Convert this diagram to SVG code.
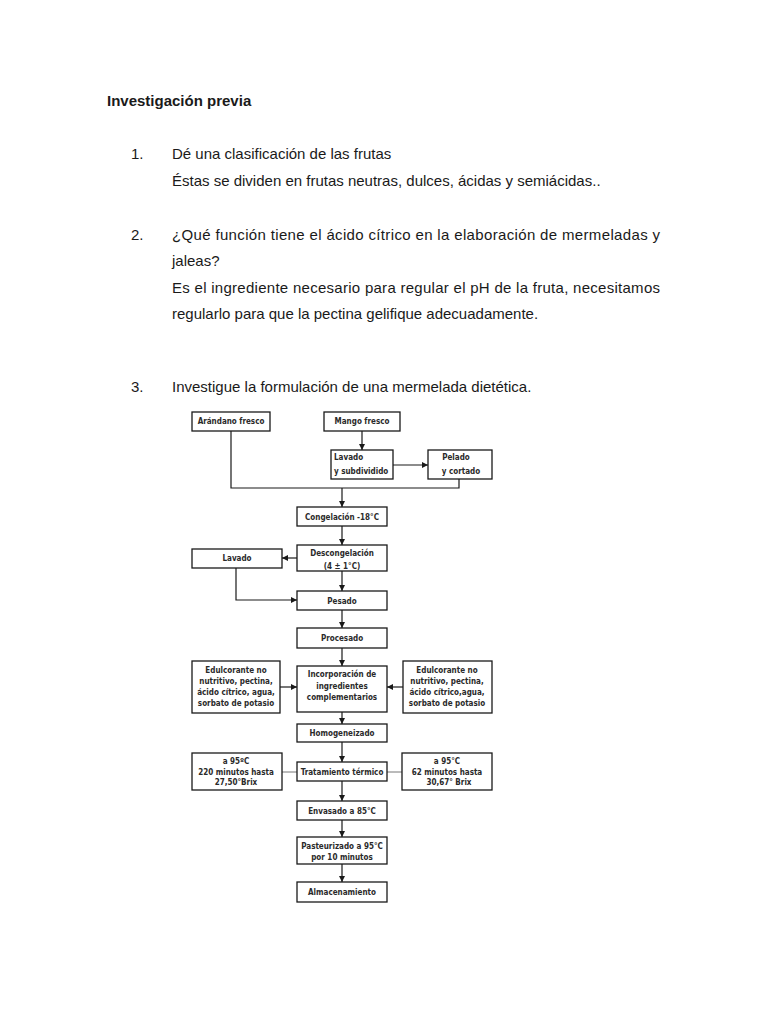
<svg xmlns="http://www.w3.org/2000/svg" width="768" height="1024" viewBox="0 0 768 1024">
<style>
.doc{font-family:"Liberation Sans",Arial,sans-serif;font-size:15px;fill:#1a1a1a}
.h{font-weight:bold}
.box{fill:#fff;stroke:#1a1a1a;stroke-width:1.3}
.t{font-family:"DejaVu Sans Condensed","DejaVu Sans",sans-serif;font-size:8px;font-weight:600;fill:#2a2a2a;text-anchor:middle}
.tl{text-anchor:start}
.c{fill:none;stroke:#1a1a1a;stroke-width:1.2}
.g{fill:none;stroke:#777;stroke-width:1}
</style>
<defs>
<marker id="ar" viewBox="0 0 10 10" refX="10" refY="5" markerWidth="6" markerHeight="6" markerUnits="userSpaceOnUse" orient="auto">
<path d="M0,0 L10,5 L0,10 z" fill="#1a1a1a"/>
</marker>
</defs>
<rect width="768" height="1024" fill="#fff"/>
<g id="text">
<text class="doc h" x="107" y="106">Investigación previa</text>
<text class="doc" x="131" y="159">1.</text>
<text class="doc" x="172" y="159">Dé una clasificación de las frutas</text>
<text class="doc" x="172" y="186">Éstas se dividen en frutas neutras, dulces, ácidas y semiácidas..</text>
<text class="doc" x="131" y="240">2.</text>
<text class="doc" x="172" y="240" textLength="488" lengthAdjust="spacing">¿Qué función tiene el ácido cítrico en la elaboración de mermeladas y</text>
<text class="doc" x="172" y="266">jaleas?</text>
<text class="doc" x="172" y="293" textLength="488" lengthAdjust="spacing">Es el ingrediente necesario para regular el pH de la fruta, necesitamos</text>
<text class="doc" x="172" y="319">regularlo para que la pectina gelifique adecuadamente.</text>
<text class="doc" x="131" y="392">3.</text>
<text class="doc" x="172" y="392">Investigue la formulación de una mermelada dietética.</text>
</g>
<g id="connectors">
<path class="c" d="M362,431 V450" marker-end="url(#ar)"/>
<path class="c" d="M393,465 H428" marker-end="url(#ar)"/>
<path class="c" d="M231,431 V488 H459 V479"/>
<path class="c" d="M342,488 V507" marker-end="url(#ar)"/>
<path class="c" d="M342,526 V545" marker-end="url(#ar)"/>
<path class="c" d="M297,558 H282" marker-end="url(#ar)"/>
<path class="c" d="M236,568 V600 H297" marker-end="url(#ar)"/>
<path class="c" d="M342,571 V591" marker-end="url(#ar)"/>
<path class="c" d="M342,610 V628" marker-end="url(#ar)"/>
<path class="c" d="M342,648 V666" marker-end="url(#ar)"/>
<path class="c" d="M280,687 H297" marker-end="url(#ar)"/>
<path class="c" d="M403,687 H387" marker-end="url(#ar)"/>
<path class="c" d="M342,712 V724" marker-end="url(#ar)"/>
<path class="c" d="M342,742 V762" marker-end="url(#ar)"/>
<path class="g" d="M282,772 H297"/>
<path class="g" d="M387,772 H402"/>
<path class="c" d="M342,781 V801" marker-end="url(#ar)"/>
<path class="c" d="M342,820 V837" marker-end="url(#ar)"/>
<path class="c" d="M342,864 V882" marker-end="url(#ar)"/>
</g>
<g id="arandano"><rect class="box" x="192" y="412" width="78" height="19"/><text class="t" x="231" y="424">Arándano fresco</text></g>
<g id="mango"><rect class="box" x="324" y="412" width="76" height="19"/><text class="t" x="362" y="424">Mango fresco</text></g>
<g id="lavado1"><rect class="box" x="331" y="450" width="62" height="29"/><text class="t tl" x="334" y="460">Lavado</text><text class="t tl" x="334" y="474">y subdividido</text></g>
<g id="pelado"><rect class="box" x="428" y="450" width="64" height="29"/><text class="t" x="456" y="460">Pelado</text><text class="t" x="461" y="474">y cortado</text></g>
<g id="congelacion"><rect class="box" x="297" y="507" width="90" height="19"/><text class="t" x="342" y="520">Congelación -18°C</text></g>
<g id="descongelacion"><rect class="box" x="297" y="545" width="90" height="26"/><text class="t" x="342" y="556">Descongelación</text><text class="t" x="342" y="569">(4 ± 1°C)</text></g>
<g id="lavado2"><rect class="box" x="192" y="549" width="90" height="19"/><text class="t" x="237" y="561">Lavado</text></g>
<g id="pesado"><rect class="box" x="297" y="591" width="90" height="19"/><text class="t" x="342" y="604">Pesado</text></g>
<g id="procesado"><rect class="box" x="297" y="628" width="90" height="20"/><text class="t" x="342" y="641">Procesado</text></g>
<g id="incorporacion"><rect class="box" x="297" y="666" width="90" height="46"/><text class="t" x="342" y="677">Incorporación de</text><text class="t" x="342" y="689">ingredientes</text><text class="t" x="342" y="700">complementarios</text></g>
<g id="edulcorante1"><rect class="box" x="192" y="661" width="88" height="52"/><text class="t" x="236" y="673">Edulcorante no</text><text class="t" x="236" y="684">nutritivo, pectina,</text><text class="t" x="236" y="695">ácido cítrico, agua,</text><text class="t" x="236" y="706">sorbato de potasio</text></g>
<g id="edulcorante2"><rect class="box" x="403" y="661" width="89" height="52"/><text class="t" x="447" y="673">Edulcorante no</text><text class="t" x="447" y="684">nutritivo, pectina,</text><text class="t" x="447" y="695">ácido cítrico,agua,</text><text class="t" x="447" y="706">sorbato de potasio</text></g>
<g id="homogeneizado"><rect class="box" x="297" y="724" width="90" height="18"/><text class="t" x="342" y="736">Homogeneizado</text></g>
<g id="tratamiento"><rect class="box" x="297" y="762" width="90" height="19"/><text class="t" x="342" y="775">Tratamiento térmico</text></g>
<g id="cond1"><rect class="box" x="192" y="753" width="90" height="37"/><text class="t" x="236" y="764">a 95ºC</text><text class="t" x="236" y="775">220 minutos hasta</text><text class="t" x="236" y="785">27,50°Brix</text></g>
<g id="cond2"><rect class="box" x="402" y="753" width="90" height="37"/><text class="t" x="447" y="764">a 95°C</text><text class="t" x="447" y="775">62 minutos hasta</text><text class="t" x="449" y="785">30,67° Brix</text></g>
<g id="envasado"><rect class="box" x="297" y="801" width="90" height="19"/><text class="t" x="342" y="814">Envasado a 85°C</text></g>
<g id="pasteurizado"><rect class="box" x="297" y="837" width="90" height="27"/><text class="t" x="342" y="849">Pasteurizado a 95°C</text><text class="t" x="342" y="860">por 10 minutos</text></g>
<g id="almacenamiento"><rect class="box" x="297" y="882" width="90" height="20"/><text class="t" x="342" y="895">Almacenamiento</text></g>
</svg>
